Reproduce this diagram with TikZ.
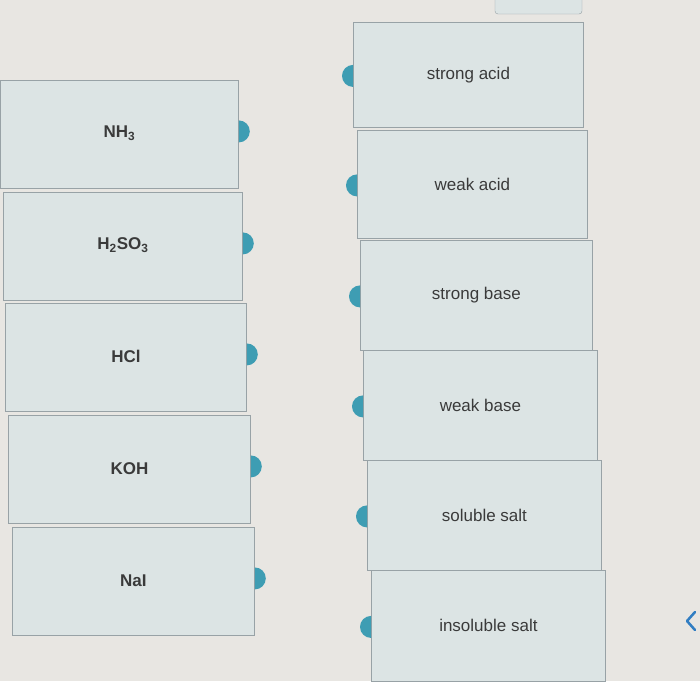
\documentclass[tikz,border=0pt]{standalone}
\usepackage{fontspec}
\setmainfont{Liberation Sans}
\usetikzlibrary{calc}
\definecolor{bg}{HTML}{E8E6E2}
\definecolor{boxf}{HTML}{DCE4E4}
\definecolor{boxd}{HTML}{98A2A6}
\definecolor{knob}{HTML}{3E9DB3}
\definecolor{txt}{HTML}{3A3A3A}
\tikzset{
  card/.style={draw=boxd,fill=boxf,line width=0.8pt},
  lbl/.style={text=txt,font=\fontsize{17}{20}\selectfont},
  blbl/.style={text=txt,font=\bfseries\fontsize{17}{20}\selectfont},
  knobst/.style={fill=knob,draw=none}
}
\begin{document}
\begin{tikzpicture}[x=1pt,y=-1pt]
\fill[bg] (0,0) rectangle (700,681);
\useasboundingbox (0,0) rectangle (700,681);
\draw[boxd,fill=boxf,rounded corners=3pt] (495,-10) rectangle (582,14);
% left column
\foreach \n/\xa/\ya/\xb/\yb/\t/\s in {
  a/0/80/238/188/{NH\textsubscript{3}}/blbl,
  b/3/192/242/300/{H\textsubscript{2}SO\textsubscript{3}}/blbl,
  c/5/303/246/411/{HCl}/blbl,
  d/8/415/250/523/{KOH}/blbl,
  e/12/527/254/635/{NaI}/blbl}{
  \node[card,minimum width={\xb-\xa},minimum height={\yb-\ya},anchor=north west,inner sep=0pt] (L\n) at (\xa,\ya) {};
  \node[\s] (T\n) at ($(L\n.center)+(0,-1)$) {\t};
  \fill[knobst] ($(L\n.east)+(0,-3)$) ++(0,11) arc[start angle=90,end angle=-90,radius=11] -- cycle;
}
% right column
\foreach \n/\xa/\ya/\xb/\yb/\t in {
  a/353/22/583/127/{strong acid},
  b/357/130/587/238/{weak acid},
  c/360/240/592/350/{strong base},
  d/363/350/597/460/{weak base},
  e/367/460/601/570/{soluble salt},
  f/371/570/605/681/{insoluble salt}}{
  \node[card,minimum width={\xb-\xa},minimum height={\yb-\ya},anchor=north west,inner sep=0pt] (R\n) at (\xa,\ya) {};
  \node[lbl] (U\n) at ($(R\n.center)+(0,0)$) {\t};
  \fill[knobst] ($(R\n.west)+(0,1)$) ++(0,11) arc[start angle=90,end angle=270,radius=11] -- cycle;
}
\draw[knob!80!blue,line width=2.5pt,line cap=round,line join=round] (695,612) -- (687,621) -- (695,630);
\end{tikzpicture}
\end{document}
